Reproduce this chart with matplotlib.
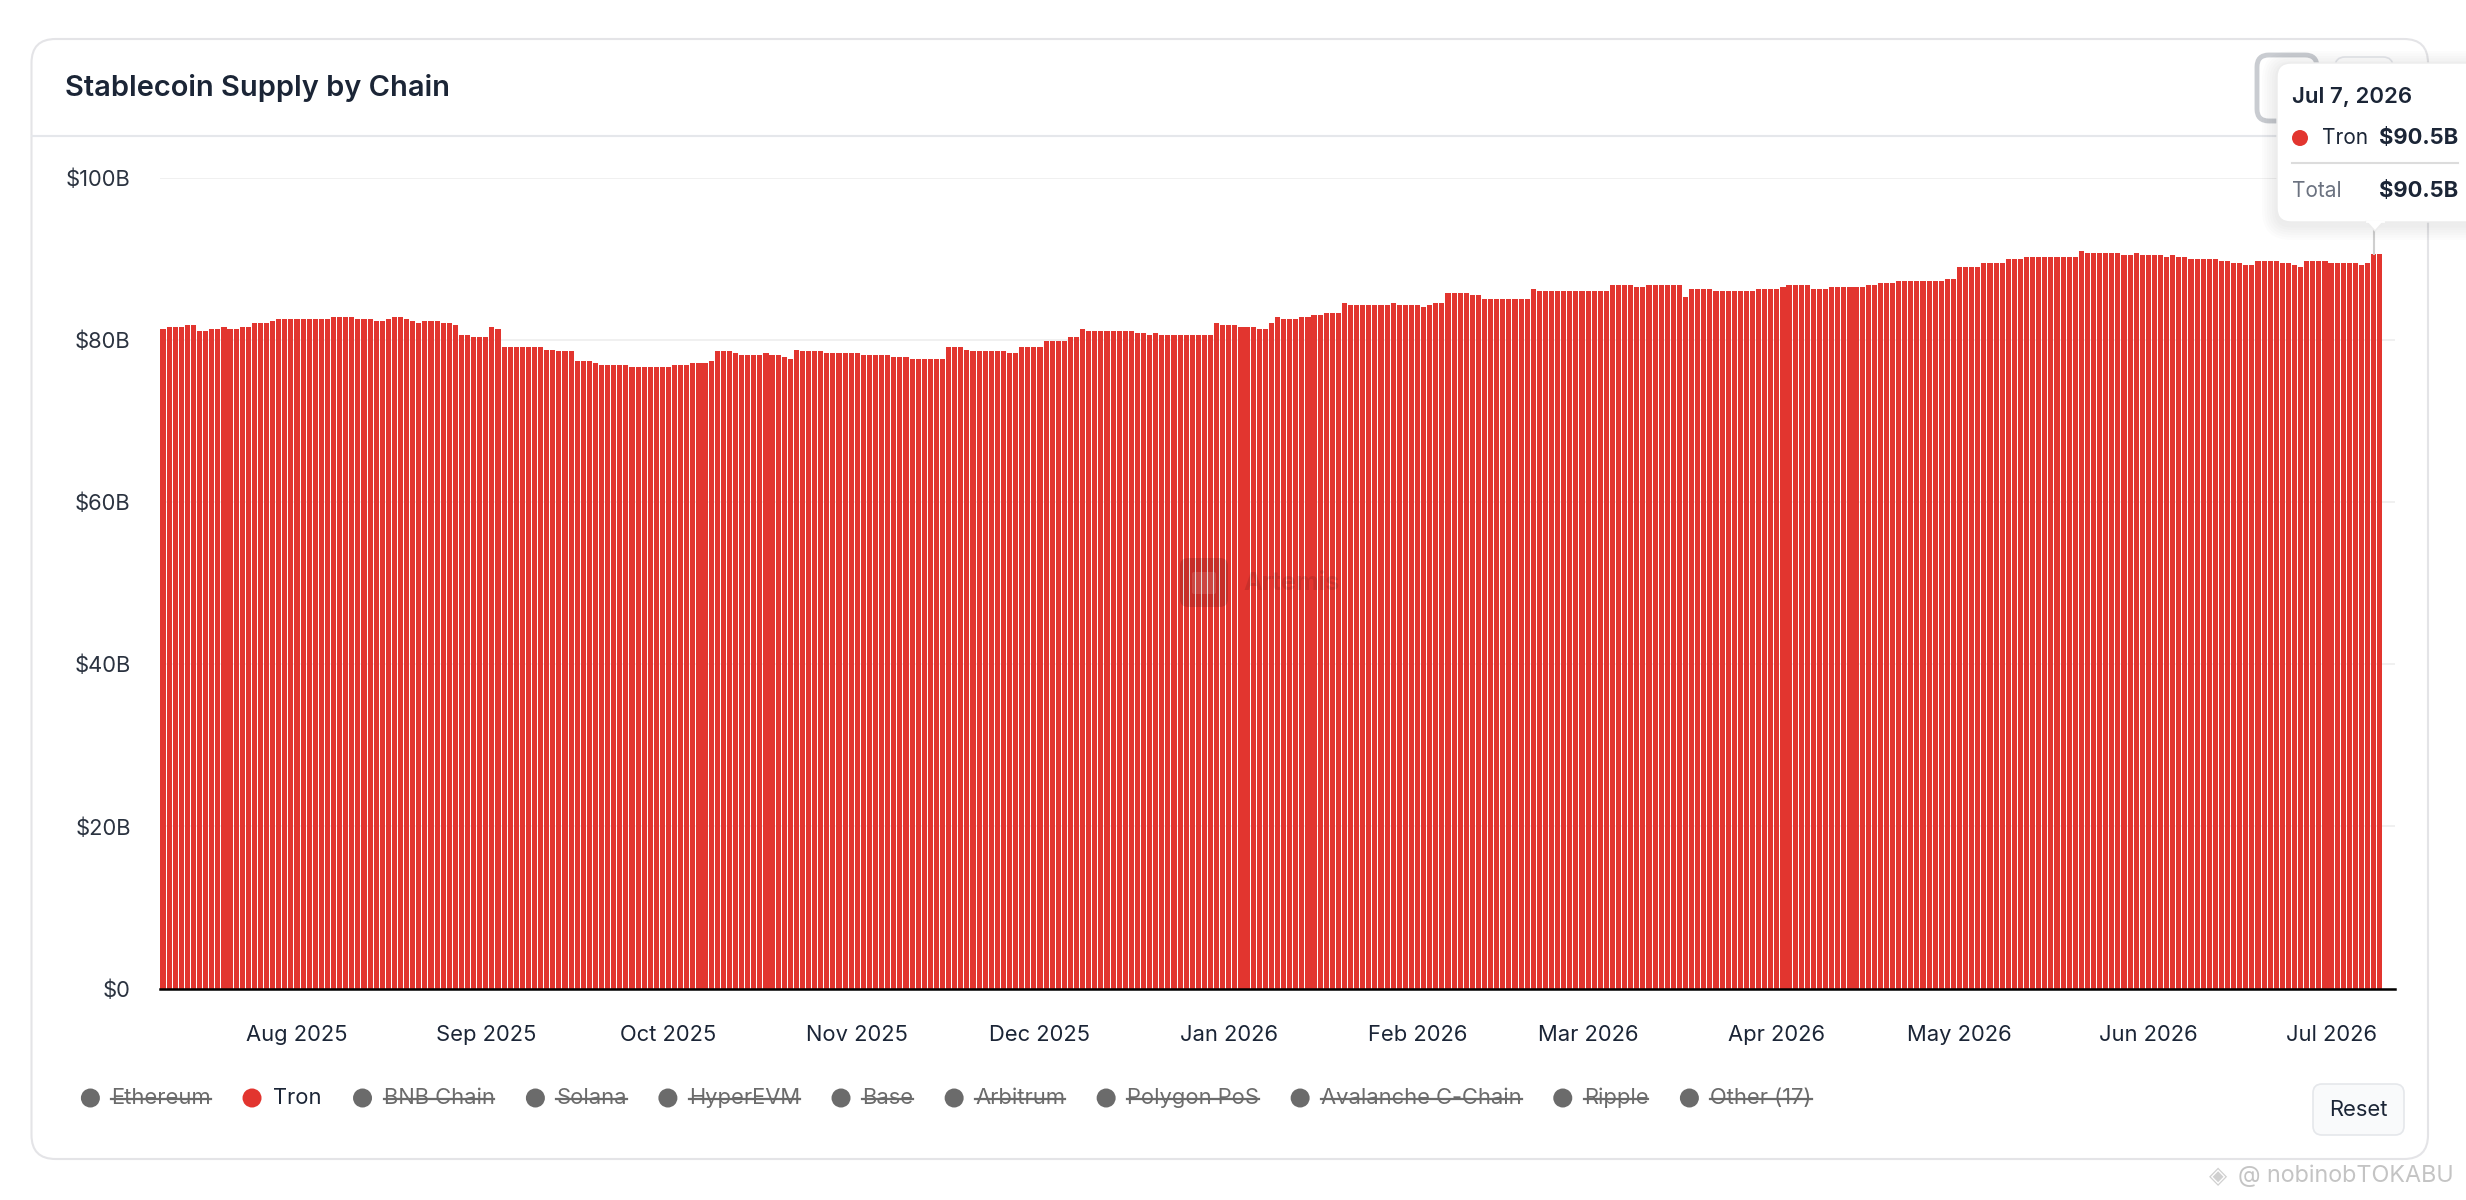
import datetime as dt
import numpy as np
import matplotlib
matplotlib.use("Agg")
import matplotlib.pyplot as plt
import matplotlib.dates as mdates
import matplotlib.transforms as mtransforms
from matplotlib.patches import FancyBboxPatch, Circle, Polygon
from matplotlib.lines import Line2D

# ---------------- data ----------------
start_date = dt.date(2025, 7, 10)

tron_supply_b = [
    # Jul 10 2025 ->
    81.3, 81.6, 81.6, 81.6, 81.8, 81.8, 81.1, 81.1, 81.3, 81.3,
    81.6, 81.3, 81.3, 81.6, 81.6, 82.1, 82.1, 82.1, 82.3, 82.6,
    82.6, 82.6, 82.6, 82.6, 82.6, 82.6, 82.6, 82.6, 82.8, 82.8,
    82.8, 82.8, 82.6, 82.6, 82.6, 82.3, 82.3, 82.6, 82.8, 82.8,
    82.6, 82.3, 82.1, 82.3, 82.3, 82.3, 82.1, 82.1, 81.8, 80.6,
    80.6, 80.3, 80.3, 80.3, 81.6, 81.3,
    79.1, 79.1, 79.1, 79.1, 79.1, 79.1, 79.1, 78.8, 78.8, 78.6,
    78.6, 78.6, 77.4, 77.4, 77.4, 77.1, 76.9, 76.9, 76.9, 76.9,
    76.9, 76.6, 76.6, 76.6, 76.6, 76.6, 76.6, 76.6, 76.9, 76.9,
    76.9, 77.1, 77.1, 77.1, 77.4, 78.6, 78.6, 78.6, 78.4, 78.1,
    78.1, 78.1, 78.1, 78.4, 78.1, 78.1, 77.9, 77.6, 78.8, 78.6,
    78.6, 78.6, 78.6, 78.4, 78.4, 78.4, 78.4, 78.4, 78.4, 78.1,
    78.1, 78.1, 78.1, 78.1, 77.9, 77.9, 77.9, 77.6, 77.6, 77.6,
    77.6, 77.6, 77.6,
    79.1, 79.1, 79.1, 78.8, 78.6, 78.6, 78.6, 78.6, 78.6, 78.6,
    78.4, 78.4, 79.1, 79.1, 79.1, 79.1, 79.8, 79.8, 79.8, 79.8,
    80.3, 80.3, 81.3, 81.1, 81.1, 81.1, 81.1, 81.1, 81.1, 81.1,
    81.1, 80.8, 80.8, 80.6, 80.8, 80.6, 80.6, 80.6, 80.6, 80.6,
    80.6, 80.6, 80.6, 80.6, 82.1, 81.8, 81.8, 81.8, 81.6, 81.6,
    81.6, 81.3, 81.3, 82.1, 82.8, 82.6, 82.6, 82.6, 82.8, 82.8,
    83.1, 83.1, 83.3, 83.3, 83.3, 84.5, 84.3, 84.3, 84.3, 84.3,
    84.3, 84.3, 84.3,
    84.5, 84.3, 84.3, 84.3, 84.3, 84.0, 84.3, 84.5, 84.5, 85.8,
    85.8, 85.8, 85.8, 85.5, 85.5, 85.0, 85.0, 85.0, 85.0, 85.0,
    85.0, 85.0, 85.0, 86.3, 86.0, 86.0, 86.0, 86.0, 86.0, 86.0,
    86.0, 86.0, 86.0, 86.0, 86.0, 86.0, 86.8, 86.8, 86.8, 86.8,
    86.5, 86.5, 86.8, 86.8, 86.8, 86.8, 86.8, 86.8, 85.3, 86.3,
    86.3, 86.3, 86.3, 86.0, 86.0, 86.0, 86.0, 86.0, 86.0, 86.0,
    86.3, 86.3, 86.3, 86.3, 86.5, 86.8, 86.8, 86.8, 86.8, 86.3,
    86.3, 86.3, 86.5,
    86.5, 86.5, 86.5, 86.5, 86.5, 86.8, 86.8, 87.0, 87.0, 87.0,
    87.3, 87.3, 87.3, 87.3, 87.3, 87.3, 87.3, 87.3, 87.5, 87.5,
    89.0, 89.0, 89.0, 89.0, 89.5, 89.5, 89.5, 89.5, 90.0, 90.0,
    90.0, 90.2, 90.2, 90.2, 90.2, 90.2, 90.2, 90.2, 90.2, 90.2,
    91.0, 90.7, 90.7, 90.7, 90.7, 90.7, 90.7, 90.5, 90.5, 90.7,
    90.5, 90.5, 90.5, 90.5, 90.2, 90.5, 90.2, 90.2, 90.0, 90.0,
    90.0, 90.0, 90.0, 89.7, 89.7, 89.5, 89.5, 89.2, 89.2, 89.7,
    89.7, 89.7, 89.7, 89.5, 89.5, 89.2, 89.0, 89.7, 89.7, 89.7,
    89.7, 89.5, 89.5, 89.5, 89.5, 89.5, 89.2, 89.5, 90.6, 90.6,
]

y_ticks = [0, 20, 40, 60, 80, 100]
y_tick_labels = ["$0", "$20B", "$40B", "$60B", "$80B", "$100B"]

legend_names = ["Ethereum", "Tron", "BNB Chain", "Solana", "HyperEVM", "Base",
                "Arbitrum", "Polygon PoS", "Avalanche C-Chain", "Ripple", "Other (17)"]
legend_active = [False, True, False, False, False, False,
                 False, False, False, False, False]

tooltip_date = "Jul 7, 2026"
tooltip_series = "Tron"
tooltip_value = "$90.5B"
tooltip_total = "$90.5B"
hover_index = 363

# ---------------- style ----------------
RED = "#E2352F"
NAVY = "#1b2536"
GRAYTXT = "#6b6b6b"
FS = 15.8

plt.rcParams['font.family'] = ['Inter', 'DejaVu Sans']

W, H = 2466, 1200
fig = plt.figure(figsize=(W / 100, H / 100), dpi=100)
fig.patch.set_facecolor("white")
PX = mtransforms.Affine2D().scale(1 / W, -1 / H).translate(0, 1) + fig.transFigure


def fx(x):
    return x / W


def fy(y):
    return 1 - y / H


# card
card = FancyBboxPatch((31.5, 39), 2428 - 31.5, 1159 - 39,
                      boxstyle="round,pad=0,rounding_size=24", transform=PX,
                      facecolor="white", edgecolor="#e4e4e7", linewidth=1.5, zorder=-5)
fig.add_artist(card)
fig.add_artist(Line2D([31.5, 2428], [136, 136], transform=PX, color="#e5e7eb",
                      linewidth=1.5, zorder=-4))

fig.text(fx(65), fy(88), "Stablecoin Supply by Chain", fontsize=20.9, fontweight="semibold",
         color=NAVY, ha="left", va="center")

# ---------------- axes ----------------
ax_left, ax_right, ax_top, ax_bottom = 160, 2395, 177.7, 988.5
ax = fig.add_axes([fx(ax_left), fy(ax_bottom), (ax_right - ax_left) / W,
                   (ax_bottom - ax_top) / H])
ax.set_zorder(1)
ax.set_facecolor("none")

dates = [start_date + dt.timedelta(days=i) for i in range(len(tron_supply_b))]
dnum = mdates.date2num(dates)
ax.bar(dnum, tron_supply_b, width=0.84, color=RED, linewidth=0, zorder=2)

ax.set_xlim(dnum[0] - 0.5, dnum[0] + 366.5)
ax.set_ylim(0, 100)
ax.set_yticks(y_ticks)
ax.set_yticklabels(y_tick_labels)
ax.yaxis.grid(True, color="#ececec", linewidth=1.1)
ax.set_axisbelow(True)
for s in ["top", "right", "left"]:
    ax.spines[s].set_visible(False)
ax.spines["bottom"].set_color("#000000")
ax.spines["bottom"].set_linewidth(1.8)
ax.spines["bottom"].set_zorder(3)

ax.xaxis.set_major_locator(mdates.MonthLocator())
ax.xaxis.set_major_formatter(mdates.DateFormatter("%b %Y"))
ax.tick_params(axis="y", length=0, pad=21, labelsize=FS, labelcolor="#2b3340")
ax.tick_params(axis="x", length=0, pad=26, labelsize=FS, labelcolor=NAVY)

# hover crosshair
ax.plot([dnum[hover_index], dnum[hover_index]], [tron_supply_b[hover_index], 94.5],
        color="#cfcfcf", linewidth=1.5, clip_on=False, zorder=4)

# Artemis watermark
fig.add_artist(FancyBboxPatch((1180, 558), 48, 49, boxstyle="round,pad=0,rounding_size=8",
                              transform=PX, facecolor="black", alpha=0.12,
                              linewidth=0, zorder=5))
fig.add_artist(FancyBboxPatch((1192, 572), 24, 22, boxstyle="round,pad=0,rounding_size=2",
                              transform=PX, facecolor="white", alpha=0.12,
                              linewidth=0, zorder=5))
fig.text(fx(1243), fy(584), "Artemis", fontsize=18, fontweight="bold", color="black",
         alpha=0.10, ha="left", va="center", zorder=5)

# ---------------- legend ----------------
fig.canvas.draw()
renderer = fig.canvas.get_renderer()
lx, ly = 90.4, 1098
for name, active in zip(legend_names, legend_active):
    fig.add_artist(Circle((lx, ly), 9.5, transform=PX,
                          facecolor=RED if active else GRAYTXT, linewidth=0))
    t = fig.text(fx(lx + 21), fy(ly), name, fontsize=FS,
                 color=NAVY if active else GRAYTXT, ha="left", va="center")
    w = t.get_window_extent(renderer).width
    if not active:
        fig.add_artist(Line2D([lx + 21, lx + 21 + w], [ly + 1, ly + 1], transform=PX,
                              color=GRAYTXT, linewidth=1.6))
    lx = lx + 21 + w + 41

# reset button
fig.add_artist(FancyBboxPatch((2313, 1084), 91, 51, boxstyle="round,pad=0,rounding_size=9",
                              transform=PX, facecolor="#f9fafb", edgecolor="#e5e7eb",
                              linewidth=1.2))
fig.text(fx(2358.5), fy(1110), "Reset", fontsize=FS, color=NAVY, ha="center", va="center")

# top-right buttons (partly hidden by tooltip)
fig.add_artist(FancyBboxPatch((2257, 55), 60, 66, boxstyle="round,pad=0,rounding_size=12",
                              transform=PX, facecolor="white", edgecolor="#c9ccd1",
                              linewidth=3.5, zorder=6))
fig.add_artist(FancyBboxPatch((2335, 57), 58, 62, boxstyle="round,pad=0,rounding_size=10",
                              transform=PX, facecolor="white", edgecolor="#e5e7eb",
                              linewidth=1.2, zorder=6))

# ---------------- tooltip ----------------
tx0, ty0, tx1, ty1 = 2277, 63, 2500, 222
for i in range(1, 7):
    e = i * 2.5
    fig.add_artist(FancyBboxPatch((tx0 - e, ty0 - e + 3), tx1 - tx0 + 2 * e, ty1 - ty0 + 2 * e,
                                  boxstyle="round,pad=0,rounding_size=%g" % (14 + e),
                                  transform=PX, facecolor="black", alpha=0.012,
                                  linewidth=0, zorder=7))
fig.add_artist(FancyBboxPatch((tx0, ty0), tx1 - tx0, ty1 - ty0,
                              boxstyle="round,pad=0,rounding_size=14", transform=PX,
                              facecolor="white", edgecolor="#ececec", linewidth=1.0, zorder=8))
fig.add_artist(Polygon([(2366, 221), (2384, 221), (2375, 231)], closed=True, transform=PX,
                       facecolor="white", edgecolor="#ececec", linewidth=1.0, zorder=8))
fig.add_artist(Line2D([2367, 2383], [221, 221], transform=PX, color="white",
                      linewidth=2, zorder=8))
fig.text(fx(2292), fy(97), tooltip_date, fontsize=16, fontweight="semibold", color=NAVY,
         ha="left", va="center", zorder=9)
fig.add_artist(Circle((2300, 138), 8, transform=PX, facecolor=RED, linewidth=0, zorder=9))
fig.text(fx(2322), fy(138), tooltip_series, fontsize=FS - 0.8, color=NAVY,
         ha="left", va="center", zorder=9)
fig.text(fx(2458), fy(138), tooltip_value, fontsize=FS, fontweight="bold", color=NAVY,
         ha="right", va="center", zorder=9)
fig.add_artist(Line2D([2292, 2458], [163, 163], transform=PX, color="#dcdcdc",
                      linewidth=1.5, zorder=9))
fig.text(fx(2292), fy(191), "Total", fontsize=FS - 0.8, color="#6b7280",
         ha="left", va="center", zorder=9)
fig.text(fx(2458), fy(191), tooltip_total, fontsize=FS, fontweight="bold", color=NAVY,
         ha="right", va="center", zorder=9)

# corner credit
fig.text(fx(2218), fy(1176), "\u25C8", fontsize=17, color="#d0d0d0", family="DejaVu Sans",
         ha="center", va="center")
fig.text(fx(2238), fy(1176), "@ nobinobTOKABU", fontsize=16.8, color="#c4c4c4",
         ha="left", va="center")

fig.savefig("out.png", dpi=100, facecolor="white")
